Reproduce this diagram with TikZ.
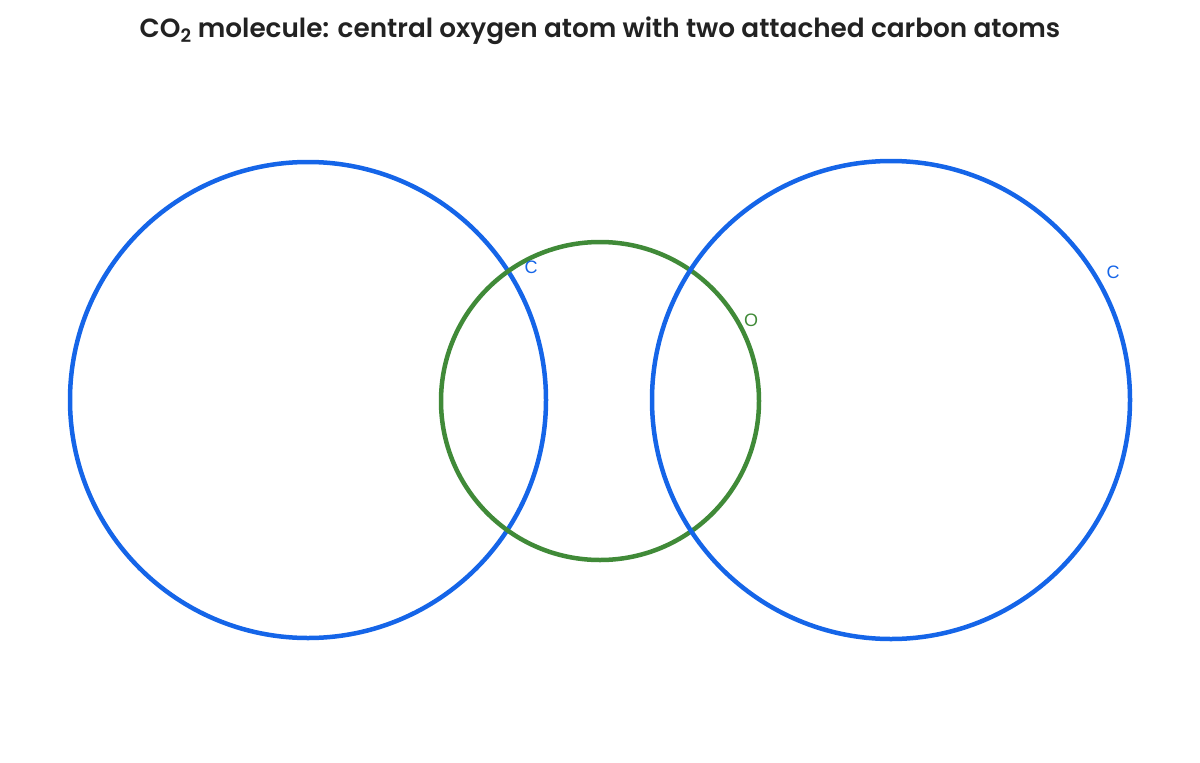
\documentclass[tikz,border=0pt]{standalone}
\usepackage{fontspec}
\setmainfont{Poppins}[BoldFont={Poppins SemiBold}]
\newfontfamily\labelfont{Liberation Sans}
\definecolor{atomblue}{RGB}{21,101,232}
\definecolor{atomgreen}{RGB}{64,138,56}
\definecolor{titlegray}{RGB}{34,34,34}
\tikzset{
  atom/.style={circle, draw, line width=4.5pt, inner sep=0pt},
  atomlabel/.style={font=\labelfont\fontsize{18}{18}\selectfont}
}
\begin{document}
\begin{tikzpicture}[x=1pt,y=-1pt]
        \useasboundingbox (0,0) rectangle (1200,763);
        % Title
        \node[text=titlegray, font=\bfseries\fontsize{26.3}{26.3}\selectfont] (title) at (600,31) {CO\textsubscript{2} molecule: central oxygen atom with two attached carbon atoms};
        % Atoms
        \node[atom, draw=atomblue, minimum size=476pt] (cleft) at (308,400) {};
        \node[atom, draw=atomgreen, minimum size=318pt] (ocenter) at (600,401) {};
        \node[atom, draw=atomblue, minimum size=478pt] (cright) at (891,400) {};
        % Labels
        \node[atomlabel, text=atomblue] (lcleft) at (531,267) {C};
        \node[atomlabel, text=atomgreen] (locenter) at (751,320) {O};
        \node[atomlabel, text=atomblue] (lcright) at (1113,272) {C};
    \end{tikzpicture}
\end{document}
